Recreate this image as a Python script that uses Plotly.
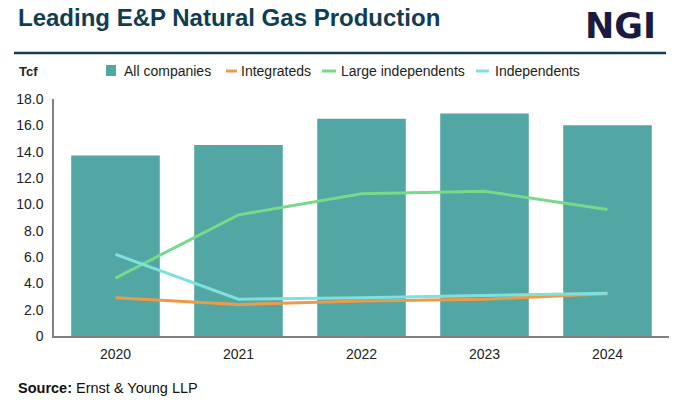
import plotly.graph_objects as go

years = ["2020", "2021", "2022", "2023", "2024"]
all_companies = [13.7, 14.5, 16.5, 16.9, 16.0]
integrateds = [2.9, 2.4, 2.65, 2.8, 3.2]
large_independents = [4.4, 9.2, 10.8, 11.0, 9.6]
independents = [6.2, 2.8, 2.9, 3.1, 3.25]

ytick_vals = [0, 2, 4, 6, 8, 10, 12, 14, 16, 18]
ytick_text = ["0", "2.0", "4.0", "6.0", "8.0", "10.0", "12.0", "14.0", "16.0", "18.0"]

series_names = ["All companies", "Integrateds", "Large independents", "Independents"]
series_colors = ["#52A6A4", "#EE9B47", "#78D98A", "#80E0E0"]

W, H = 684, 402
ML, MR, MT, MB = 54, 15, 99, 66
PW, PH = W - ML - MR, H - MT - MB


def px(x):
    return (x - ML) / PW


def py(y):
    return (H - MB - y) / PH


fig = go.Figure()
fig.add_trace(go.Bar(x=years, y=all_companies, name=series_names[0],
                     marker=dict(color=series_colors[0], line=dict(width=0))))
for name, vals, col in zip(series_names[1:], [integrateds, large_independents, independents], series_colors[1:]):
    fig.add_trace(go.Scatter(x=years, y=vals, name=name, mode="lines",
                             line=dict(color=col, width=3)))

fig.update_layout(
    width=W, height=H,
    margin=dict(l=ML, r=MR, t=MT, b=MB),
    paper_bgcolor="white", plot_bgcolor="white",
    bargap=0.28,
    font=dict(family="Liberation Sans, Arial, sans-serif", size=14, color="#222222"),
    showlegend=False,
    xaxis=dict(showline=True, linecolor="#808080", linewidth=1.5, ticks="",
               showgrid=False, tickfont=dict(size=14, color="#222222"), ticklabelstandoff=4),
    yaxis=dict(range=[0, 18], tickvals=ytick_vals, ticktext=ytick_text,
               showline=True, linecolor="#808080", linewidth=1.5, showgrid=False,
               zeroline=False, ticks="", tickfont=dict(size=14, color="#222222"),
               ticklabelstandoff=6),
)

# Title, logo, rule
fig.add_annotation(xref="paper", yref="paper", x=px(16), y=py(18), xanchor="left",
                   yanchor="middle", text="<b>Leading E&P Natural Gas Production</b>", showarrow=False,
                   font=dict(family="Liberation Sans, Arial, sans-serif", size=24, color="#103E50"))
fig.add_annotation(xref="paper", yref="paper", x=px(620), y=py(26), xanchor="center",
                   yanchor="middle", text="<b>NGI</b>", showarrow=False,
                   font=dict(family="DejaVu Sans, sans-serif", size=35, color="#1B1A40"))
fig.add_shape(type="line", xref="paper", yref="paper", x0=px(14), x1=px(666),
              y0=py(53), y1=py(53), line=dict(color="#103E50", width=2.5))

# Unit label and legend
LEG_Y = 71
fig.add_annotation(xref="paper", yref="paper", x=px(17), y=py(LEG_Y), xanchor="left",
                   yanchor="middle", text="<b>Tcf</b>", showarrow=False,
                   font=dict(size=13, color="#222222"))
fig.add_shape(type="rect", xref="paper", yref="paper", x0=px(106), x1=px(116),
              y0=py(76), y1=py(65), fillcolor=series_colors[0], line=dict(width=0))
line_x = [(226, 237), (322, 336), (476, 489)]
for (a, b), col in zip(line_x, series_colors[1:]):
    fig.add_shape(type="line", xref="paper", yref="paper", x0=px(a), x1=px(b),
                  y0=py(LEG_Y), y1=py(LEG_Y), line=dict(color=col, width=3))
text_x = [122, 239, 339, 493]
for tx, name in zip(text_x, series_names):
    fig.add_annotation(xref="paper", yref="paper", x=px(tx), y=py(LEG_Y), xanchor="left",
                       yanchor="middle", text=name, showarrow=False,
                       font=dict(size=14, color="#222222"))

# Source
fig.add_annotation(xref="paper", yref="paper", x=px(16), y=py(388), xanchor="left",
                   yanchor="middle", text="<b>Source:</b> Ernst & Young LLP", showarrow=False,
                   font=dict(size=14.5, color="#111111"))

fig.write_html("out.html")
